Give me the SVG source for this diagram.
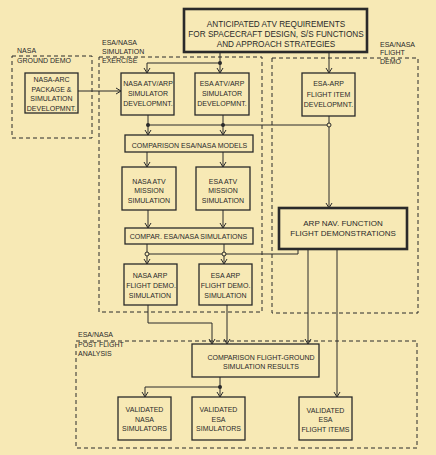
<svg xmlns="http://www.w3.org/2000/svg" width="436" height="455" viewBox="0 0 436 455">
<style>
text{font-family:"Liberation Sans",Arial,sans-serif;font-size:7px;fill:#2a2a2a}
.c{text-anchor:middle}
.big{font-size:8.2px}
.nav{font-size:8px}
.box{fill:none;stroke:#2a2a2a;stroke-width:1.3}
.thick{fill:none;stroke:#2a2a2a;stroke-width:2.6}
.dash{fill:none;stroke:#2a2a2a;stroke-width:1;stroke-dasharray:4,3}
.ln{fill:none;stroke:#2a2a2a;stroke-width:1}
.arr{marker-end:url(#ah)}
.dot{fill:#2a2a2a}
.odot{fill:#f7e9b5;stroke:#2a2a2a;stroke-width:1}
</style>
<defs>
<marker id="ah" markerUnits="userSpaceOnUse" markerWidth="10" markerHeight="10" viewBox="-6 -5 8 10" refX="0" refY="0" orient="auto">
<path d="M-5,-3 L0,0 L-5,3" fill="none" stroke="#2a2a2a" stroke-width="1"/>
</marker>
</defs>
<rect x="0" y="0" width="436" height="455" fill="#f7e9b5"/>

<g id="regions">
<rect class="dash" x="12" y="56" width="80" height="82"/>
<rect class="dash" x="99" y="57" width="163" height="255"/>
<rect class="dash" x="272" y="58" width="146" height="255"/>
<rect class="dash" x="76" y="341" width="341" height="107"/>
<text x="17" y="53">NASA</text>
<text x="17" y="63">GROUND DEMO</text>
<text x="102" y="45">ESA/NASA</text>
<text x="102" y="54">SIMULATION</text>
<text x="102" y="63">EXERCISE</text>
<text x="380" y="46.5">ESA/NASA</text>
<text x="380" y="55">FLIGHT</text>
<text x="380" y="64">DEMO</text>
<text x="78" y="337">ESA/NASA</text>
<text x="78" y="347">POST FLIGHT</text>
<text x="78" y="356">ANALYSIS</text>
</g>

<g id="connectors">
<path class="ln" d="M220,52 V63 M147,63 H220"/>
<path class="ln arr" d="M147,63 V73"/>
<path class="ln arr" d="M220,63 V73"/>
<path class="ln arr" d="M329,52 V73"/>
<path class="ln arr" d="M78,91 H121"/>
<path class="ln arr" d="M148,115 V135"/>
<path class="ln arr" d="M223,115 V135"/>
<path class="ln" d="M148,125 H329"/>
<path class="ln arr" d="M329,116 V208"/>
<path class="ln arr" d="M147,152 V167"/>
<path class="ln arr" d="M223,152 V167"/>
<path class="ln arr" d="M148,210 V228"/>
<path class="ln arr" d="M223,210 V228"/>
<path class="ln arr" d="M147,244 V264"/>
<path class="ln arr" d="M224,244 V264"/>
<path class="ln" d="M147,254 H298 V249"/>
<path class="ln arr" d="M148,305 V323 H212 V344"/>
<path class="ln arr" d="M227,305 V344"/>
<path class="ln arr" d="M308,249 V344"/>
<path class="ln arr" d="M337,249 V397"/>
<path class="ln arr" d="M220,377 V397"/>
<path class="ln" d="M145,387 H220"/>
<path class="ln arr" d="M145,387 V397"/>
<circle class="dot" cx="220" cy="63" r="2"/>
<circle class="dot" cx="148" cy="125" r="2"/>
<circle class="dot" cx="223" cy="125" r="2"/>
<circle class="odot" cx="329" cy="125" r="2"/>
<circle class="odot" cx="147" cy="254" r="2"/>
<circle class="odot" cx="224" cy="254" r="2"/>
<circle class="dot" cx="220" cy="387" r="2"/>
</g>

<g id="n-requirements">
<rect class="thick" x="184" y="9" width="183" height="43"/>
<text class="c big" x="276" y="27">ANTICIPATED ATV REQUIREMENTS</text>
<text class="c big" x="276" y="37">FOR SPACECRAFT DESIGN, S/S FUNCTIONS</text>
<text class="c big" x="276" y="46.5">AND APPROACH STRATEGIES</text>
</g>

<g id="n-nasa-arc">
<rect class="box" x="25" y="73" width="53" height="40"/>
<text class="c" x="51.5" y="81.5">NASA-ARC</text>
<text class="c" x="51.5" y="91.5">PACKAGE &amp;</text>
<text class="c" x="51.5" y="101">SIMULATION</text>
<text class="c" x="51.5" y="110.5">DEVELOPMNT.</text>
</g>

<g id="n-nasa-atv-arp">
<rect class="box" x="121" y="73" width="53" height="42"/>
<text class="c" x="148" y="85.5">NASA ATV/ARP</text>
<text class="c" x="148" y="96">SIMULATOR</text>
<text class="c" x="148" y="105.5">DEVELOPMNT.</text>
</g>

<g id="n-esa-atv-arp">
<rect class="box" x="195" y="73" width="54" height="42"/>
<text class="c" x="222" y="85.5">ESA ATV/ARP</text>
<text class="c" x="222" y="96">SIMULATOR</text>
<text class="c" x="222" y="105.5">DEVELOPMNT.</text>
</g>

<g id="n-esa-arp">
<rect class="box" x="302" y="73" width="53" height="43"/>
<text class="c" x="328.5" y="86">ESA-ARP</text>
<text class="c" x="328.5" y="96.5">FLIGHT ITEM</text>
<text class="c" x="328.5" y="107">DEVELOPMNT.</text>
</g>

<g id="n-comp-models">
<rect class="box" x="125" y="135" width="128" height="17"/>
<text class="c" x="189.5" y="147.5">COMPARISON ESA/NASA MODELS</text>
</g>

<g id="n-nasa-mission">
<rect class="box" x="122" y="167" width="54" height="43"/>
<text class="c" x="149" y="183.5">NASA ATV</text>
<text class="c" x="149" y="193">MISSION</text>
<text class="c" x="149" y="202.5">SIMULATION</text>
</g>

<g id="n-esa-mission">
<rect class="box" x="196" y="167" width="54" height="43"/>
<text class="c" x="223" y="183.5">ESA ATV</text>
<text class="c" x="223" y="193">MISSION</text>
<text class="c" x="223" y="202.5">SIMULATION</text>
</g>

<g id="n-comp-sims">
<rect class="box" x="125" y="228" width="128" height="16"/>
<text class="c" x="188.5" y="238.5">COMPAR. ESA/NASA SIMULATIONS</text>
</g>

<g id="n-arp-nav">
<rect class="thick" x="279" y="208" width="128" height="41"/>
<text class="c nav" x="343" y="226">ARP NAV. FUNCTION</text>
<text class="c nav" x="343" y="236">FLIGHT DEMONSTRATIONS</text>
</g>

<g id="n-nasa-arp-demo">
<rect class="box" x="124" y="264" width="53" height="41"/>
<text class="c" x="150" y="277.5">NASA ARP</text>
<text class="c" x="151" y="287.5">FLIGHT DEMO.</text>
<text class="c" x="150" y="297.5">SIMULATION</text>
</g>

<g id="n-esa-arp-demo">
<rect class="box" x="199" y="264" width="53" height="41"/>
<text class="c" x="225.5" y="277.5">ESA ARP</text>
<text class="c" x="225.5" y="287.5">FLIGHT DEMO.</text>
<text class="c" x="225.5" y="297.5">SIMULATION</text>
</g>

<g id="n-comp-flight-ground">
<rect class="box" x="192" y="344" width="127" height="33"/>
<text class="c" x="261" y="359.5">COMPARISON FLIGHT-GROUND</text>
<text class="c" x="261" y="368.5">SIMULATION RESULTS</text>
</g>

<g id="n-val-nasa">
<rect class="box" x="118" y="397" width="53" height="43"/>
<text class="c" x="144.5" y="411.5">VALIDATED</text>
<text class="c" x="144.5" y="421.5">NASA</text>
<text class="c" x="144.5" y="430.5">SIMULATORS</text>
</g>

<g id="n-val-esa">
<rect class="box" x="192" y="397" width="53" height="43"/>
<text class="c" x="218.5" y="411.5">VALIDATED</text>
<text class="c" x="218.5" y="421.5">ESA</text>
<text class="c" x="218.5" y="430.5">SIMULATORS</text>
</g>

<g id="n-val-flight">
<rect class="box" x="299" y="397" width="53" height="43"/>
<text class="c" x="325.5" y="412.5">VALIDATED</text>
<text class="c" x="325.5" y="421.5">ESA</text>
<text class="c" x="325.5" y="431.5">FLIGHT ITEMS</text>
</g>
</svg>
